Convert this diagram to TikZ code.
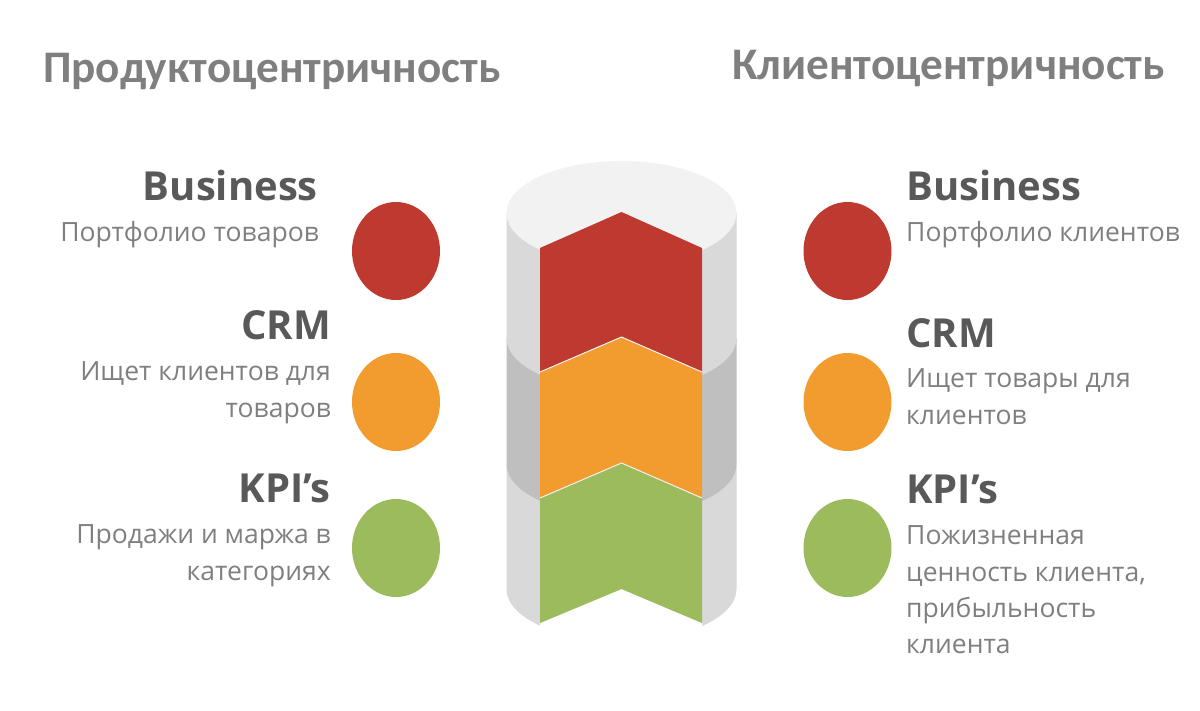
\documentclass[tikz,border=0pt]{standalone}
\usepackage{fontspec}
\setmainfont{Open Sans}
\newfontfamily\titlefont{Carlito}
\definecolor{cred}{HTML}{BE3A31}
\definecolor{corange}{HTML}{F29B2F}
\definecolor{cgreen}{HTML}{9BBB5C}
\definecolor{sidelight}{HTML}{D9D9D9}
\definecolor{sidedark}{HTML}{BFBFBF}
\definecolor{topface}{HTML}{F2F2F2}
\definecolor{headc}{HTML}{595959}
\definecolor{descc}{HTML}{7F7F7F}
\definecolor{titlec}{HTML}{7F7F7F}
\tikzset{
  titletext/.style={font=\titlefont\bfseries\fontsize{45.2}{50}\selectfont, text=titlec, inner sep=0pt},
  headtext/.style={font=\bfseries\fontsize{40}{44}\selectfont, text=headc, inner sep=0pt},
  desctext/.style={font=\fontsize{26.5}{30}\selectfont, text=descc, inner sep=0pt},
  dot/.style={ellipse, minimum width=88pt, minimum height=98pt, inner sep=0pt},
}
\usetikzlibrary{shapes.geometric}
\begin{document}
\begin{tikzpicture}[x=1pt,y=-1pt]
\useasboundingbox (0,0) rectangle (1200,710);
% titles
\node[titletext, anchor=base west] (t1) at (43,82) {Продуктоцентричность};
\node[titletext, anchor=base west] (t2) at (732,79) {Клиентоцентричность};
% cylinder segments (bottom first)
\fill[sidelight] (506.5,464) -- (506.5,589) arc[start angle=180,end angle=0,x radius=115,y radius=52] -- (736.5,464) -- cycle;
\fill[sidedark] (506.5,338) -- (506.5,464) arc[start angle=180,end angle=0,x radius=115,y radius=52] -- (736.5,338) -- cycle;
\fill[sidelight] (506.5,213) -- (506.5,338) arc[start angle=180,end angle=0,x radius=115,y radius=52] -- (736.5,213) -- cycle;
\fill[topface] (621.5,213) ellipse[x radius=115,y radius=52];
% white notch below
\fill[white] (540,623) -- (621.5,589) -- (702,623) -- (702,650) -- (540,650) -- cycle;
% colored faces
\fill[cred] (540,248) -- (621.5,212) -- (702,248) -- (702,372) -- (621.5,337) -- (540,372) -- cycle;
\fill[corange] (540,372) -- (621.5,337) -- (702,372) -- (702,498) -- (621.5,463) -- (540,498) -- cycle;
\fill[cgreen] (540,498) -- (621.5,463) -- (702,498) -- (702,623) -- (621.5,589) -- (540,623) -- cycle;
\draw[white!90!gray, line width=1pt] (540,372) -- (621.5,337) -- (702,372);
\draw[white!90!gray, line width=1pt] (540,498) -- (621.5,463) -- (702,498);
% dots
\node[dot, fill=cred] (lr) at (396,251) {};
\node[dot, fill=corange] (lo) at (396,402) {};
\node[dot, fill=cgreen] (lg) at (396,548) {};
\node[dot, fill=cred] (rr) at (847.5,251) {};
\node[dot, fill=corange] (ro) at (847.5,402) {};
\node[dot, fill=cgreen] (rg) at (847.5,548) {};
% left texts
\node[headtext, anchor=base east] (lh1) at (318,200) {Business};
\node[desctext, anchor=base east] (ld1) at (319,241) {Портфолио товаров};
\node[headtext, anchor=base east] (lh2) at (331,339) {CRM};
\node[desctext, anchor=base east] (ld2a) at (331,380) {Ищет клиентов для};
\node[desctext, anchor=base east] (ld2b) at (331,417) {товаров};
\node[headtext, anchor=base east] (lh3) at (331,502) {KPI’s};
\node[desctext, anchor=base east] (ld3a) at (331,543) {Продажи и маржа в};
\node[desctext, anchor=base east] (ld3b) at (331,580) {категориях};
% right texts
\node[headtext, anchor=base west] (rh1) at (906,200) {Business};
\node[desctext, anchor=base west] (rd1) at (906,241) {Портфолио клиентов};
\node[headtext, anchor=base west] (rh2) at (906,347) {CRM};
\node[desctext, anchor=base west] (rd2a) at (906,387) {Ищет товары для};
\node[desctext, anchor=base west] (rd2b) at (906,424) {клиентов};
\node[headtext, anchor=base west] (rh3) at (906,503) {KPI’s};
\node[desctext, anchor=base west] (rd3a) at (906,544) {Пожизненная};
\node[desctext, anchor=base west] (rd3b) at (906,581) {ценность клиента,};
\node[desctext, anchor=base west] (rd3c) at (906,617) {прибыльность};
\node[desctext, anchor=base west] (rd3d) at (906,653) {клиента};
\end{tikzpicture}
\end{document}
